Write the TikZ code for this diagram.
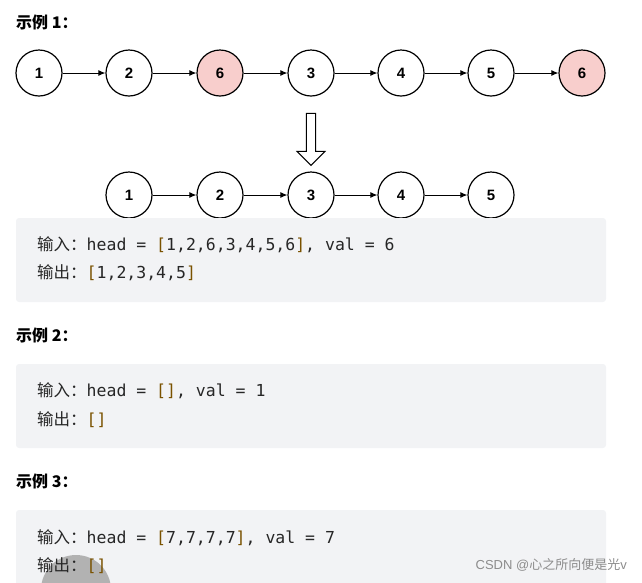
\documentclass[tikz,border=0pt]{standalone}
\usepackage{fontspec}
\setmainfont{Liberation Sans}
\setmonofont{DejaVu Sans Mono}
\newfontfamily\cjk{Noto Sans CJK SC}
\usetikzlibrary{shapes.arrows,arrows.meta}
\definecolor{codebg}{HTML}{F2F3F5}
\definecolor{pinkf}{HTML}{F8CECC}
\definecolor{brk}{HTML}{7A5200}
\begin{document}
\begin{tikzpicture}[x=1pt,y=-1pt,
  nd/.style={circle,draw,line width=1.2pt,minimum size=46pt,inner sep=0pt,font=\fontsize{15}{15}\selectfont\bfseries},
  lk/.style={-{Latex[length=7pt,width=6pt]},line width=1pt},
  code/.style={anchor=west,inner sep=0pt,font=\fontsize{16.5}{16}\selectfont\ttfamily,text=black!85},
  hd/.style={anchor=west,inner sep=0pt,font=\fontsize{16}{16}\selectfont\cjk\bfseries},
  box/.style={fill=codebg,rounded corners=3pt}]
\useasboundingbox (0,0) rectangle (642,582);
\newcommand{\cj}[1]{{\cjk #1}}
\newcommand{\bk}[1]{\textcolor{brk}{#1}}
\node[hd] (h1) at (16,22) {示例 1：};
\foreach \x/\t/\f [count=\i] in {39/1/white,129/2/white,220/6/pinkf,311/3/white,401/4/white,491/5/white,582/6/pinkf}
  \node[nd,fill=\f] (a\i) at (\x,73) {\t};
\foreach \i [evaluate=\i as \j using int(\i+1)] in {1,...,6} \draw[lk] (a\i) -- (a\j);
\node[single arrow,draw,line width=1pt,shape border rotate=270,minimum height=52pt,minimum width=28pt,single arrow head extend=5pt,inner sep=2pt] (dn) at (311,137) {};
\foreach \x/\t [count=\i] in {129/1,220/2,311/3,401/4,491/5}
  \node[nd,fill=white] (b\i) at (\x,195) {\t};
\foreach \i [evaluate=\i as \j using int(\i+1)] in {1,...,4} \draw[lk] (b\i) -- (b\j);
\fill[box] (16,218) rectangle (606,302);
\node[code] (c1) at (37,245) {\cj{输入：}head = \bk{[}1,2,6,3,4,5,6\bk{]}, val = 6};
\node[code] (c2) at (37,273) {\cj{输出：}\bk{[}1,2,3,4,5\bk{]}};
\node[hd] (h2) at (16,335) {示例 2：};
\fill[box] (16,364) rectangle (606,448);
\node[code] (c3) at (37,391) {\cj{输入：}head = \bk{[]}, val = 1};
\node[code] (c4) at (37,420) {\cj{输出：}\bk{[]}};
\node[hd] (h3) at (16,481) {示例 3：};
\fill[box] (16,510) rectangle (606,590);
\node[code] (c5) at (37,538) {\cj{输入：}head = \bk{[}7,7,7,7\bk{]}, val = 7};
\fill[black!30] (76,590) circle (35);
\node[code] (c6) at (37,566) {\cj{输出：}\bk{[]}};
\node[anchor=east,inner sep=0pt,text=black!45,font=\fontsize{13}{13}\selectfont] (wm) at (627,565) {CSDN @\cj{心之所向便是光}v};
\end{tikzpicture}
\end{document}
